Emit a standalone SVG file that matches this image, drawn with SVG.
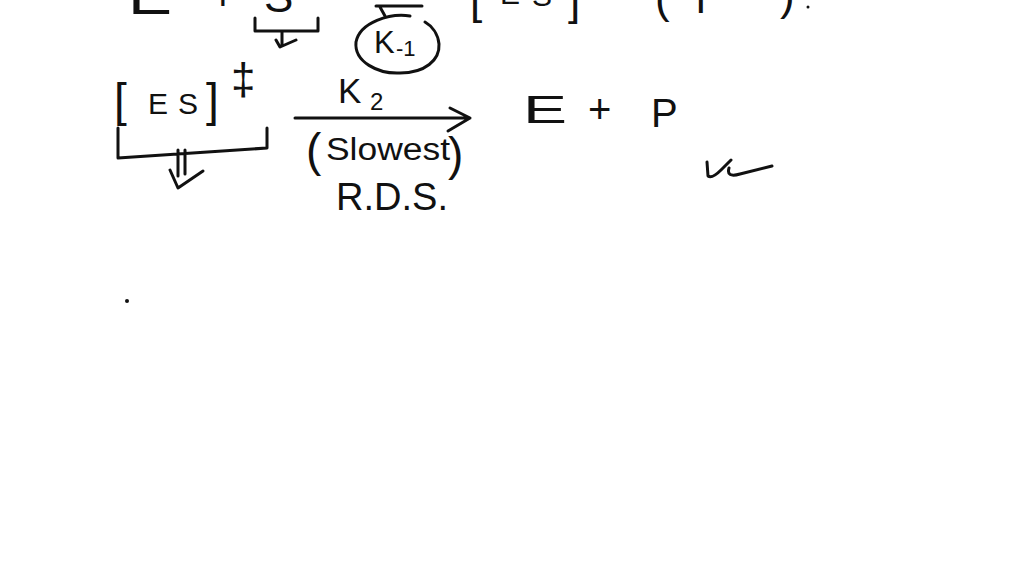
<svg xmlns="http://www.w3.org/2000/svg" width="1024" height="576" viewBox="0 0 1024 576">
<style>
.t{font-family:"Liberation Sans",Arial,sans-serif;fill:#111}
.s{fill:none;stroke:#111;stroke-width:3;stroke-linecap:round;stroke-linejoin:round}
</style>
<rect width="1024" height="576" fill="#fff"/>
<!-- top cut-off row -->
<text class="t" x="128" y="14" font-size="54" textLength="44" lengthAdjust="spacingAndGlyphs">E</text>
<text class="t" x="210" y="10" font-size="44">+</text>
<text class="t" x="264" y="12" font-size="44">S</text>
<path class="s" d="M255,18 L255,31 L318,31 L318,18 M282,31 L282,45 M276,40 L280,47 L296,40"/>
<path class="s" d="M376,6 L422,6 M380,7 L385,16"/>
<path class="s" d="M410,16 C390,13 360,22 356,42 C354,62 378,74 400,73 C425,73 440,60 439,44 C438,34 432,26 425,22"/>
<text class="t" x="374" y="53" font-size="31">K</text>
<text class="t" x="396" y="56" font-size="22">-1</text>
<text class="t" x="470" y="14" font-size="44">[</text>
<text class="t" x="500" y="4" font-size="30">E</text>
<text class="t" x="532" y="6" font-size="30">S</text>
<text class="t" x="568" y="15" font-size="44">]</text>
<text class="t" x="655" y="13" font-size="44">(</text>
<text class="t" x="695" y="13" font-size="44">f</text>
<text class="t" x="780" y="10" font-size="44">)</text>
<circle cx="808" cy="7" r="1.5" fill="#111"/>
<!-- main row -->
<text class="t" x="114" y="116" font-size="46">[</text>
<text class="t" x="148" y="114" font-size="30" textLength="56" lengthAdjust="spacing" letter-spacing="6">ES</text>
<text class="t" x="206" y="116" font-size="46">]</text>
<text class="t" x="231" y="94" font-size="44">‡</text>
<path class="s" d="M118,128 L118,158 L267,148 L267,128 M178,150 L178,176 M185,150 L185,174 M170,170 L178,188 L203,171"/>
<text class="t" x="338" y="103" font-size="35">K</text>
<text class="t" x="370" y="110" font-size="24">2</text>
<path class="s" d="M295,118 L470,118 M450,108 L470,118 L448,131"/>
<text class="t" x="306" y="166" font-size="46">(</text>
<text class="t" x="326" y="160" font-size="31" textLength="124" lengthAdjust="spacingAndGlyphs">Slowest</text>
<text class="t" x="448" y="170" font-size="46">)</text>
<text class="t" x="336" y="210" font-size="38" textLength="112" lengthAdjust="spacingAndGlyphs">R.D.S.</text>
<text class="t" x="523" y="123" font-size="38" textLength="44" lengthAdjust="spacingAndGlyphs">E</text>
<text class="t" x="588" y="123" font-size="40">+</text>
<text class="t" x="651" y="127" font-size="40">P</text>
<path class="s" d="M707,162 L708,176 Q712,179 721,170 L731,160 M729,168 Q726,178 740,174 L772,166"/>
<circle cx="127" cy="301" r="2" fill="#111"/>
</svg>
